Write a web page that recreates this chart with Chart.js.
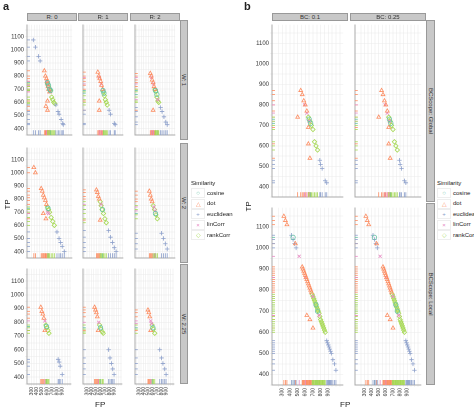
<!DOCTYPE html>
<html><head><meta charset="utf-8">
<script src="https://cdn.jsdelivr.net/npm/chart.js@4.4.0/dist/chart.umd.min.js"></script>
<style>
body{margin:0;background:#fff;font-family:"Liberation Sans",Arial,sans-serif;width:474px;height:409px;position:relative;overflow:hidden}
canvas{position:absolute}
.strip{position:absolute;background:#c8c8c8;border:1px solid #999;box-sizing:border-box;font-size:6px;color:#333;text-align:center;line-height:7px}
.vstrip{position:absolute;background:#c8c8c8;border:1px solid #999;box-sizing:border-box;font-size:6px;color:#333}
.vstrip span{position:absolute;left:50%;top:50%;transform:translate(-50%,-50%) rotate(90deg);white-space:nowrap}
.lbl{position:absolute;font-size:8px;color:#222}
.legend{position:absolute;font-size:6px;color:#222;line-height:10px;white-space:nowrap}
.legend b{font-weight:normal;display:block}
.legend i{font-style:normal;display:inline-block;width:12px;text-align:center;border:1px solid #eee;margin-right:2px;height:8px;line-height:8px;vertical-align:middle}
</style></head><body>
<script>
// Similarity methods and colours
var methods = ['cosine', 'dot', 'euclidean', 'linCorr', 'rankCorr'];
var colors = ['#66C2A5', '#FC8D62', '#8DA0CB', '#E78AC3', '#A6D854'];
var shapes = ['circle', 'triangle', 'cross', 'crossRot', 'rectRot'];
var legendSymbols = ['○', '△', '+', '×', '◇'];

// facet labels
var colsA = ['R: 0', 'R: 1', 'R: 2'];
var rowsA = ['W: 1', 'W: 2', 'W: 2.25'];
var colsB = ['BC: 0.1', 'BC: 0.25'];
var rowsB = ['BCScope: Global', 'BCScope: Local'];

// axis tick labels
var yTicks = [400, 500, 600, 700, 800, 900, 1000, 1100];
var xTicks = [300, 400, 500, 600, 700, 800, 900];

// FP,TP pairs per method: [cosine, dot, euclidean, linCorr, rankCorr]
var a_W1_R0 = [
  [600,750, 620,730, 640,700, 660,690],
  [540,840, 560,800, 580,780, 590,760, 600,740, 610,720, 620,700, 640,680, 600,610, 600,540, 570,570],
  [330,1075, 370,1020, 430,950, 460,915, 760,580, 800,530, 820,510, 860,470, 890,440, 900,430],
  [580,760, 610,730, 630,700, 650,680],
  [600,740, 620,720, 640,700, 650,690, 680,640, 700,620, 720,600, 740,590]
];
var a_W1_R1 = [
  [640,690, 660,670],
  [530,830, 550,800, 570,780, 590,760, 610,730, 630,700, 560,610, 560,540],
  [770,540, 800,510, 880,440, 900,430],
  [560,790, 600,740],
  [650,680, 670,650, 690,620, 710,600, 730,580]
];
var a_W1_R2 = [
  [650,690, 680,660],
  [540,820, 560,800, 580,770, 600,750, 620,720, 640,700, 600,540],
  [760,560, 790,530, 830,490, 870,450, 900,430],
  [570,790, 610,740, 700,620],
  [640,700, 660,680, 680,640, 700,610, 720,600]
];
var a_W2_R0 = [
  [610,730],
  [340,1040, 370,1000, 480,880, 500,860, 520,830, 540,810, 560,790, 580,760, 570,650, 520,690],
  [780,550, 820,500, 850,470, 880,440, 920,400],
  [600,700, 620,690],
  [600,740, 620,720, 640,700, 670,660, 700,630, 730,600]
];
var a_W2_R1 = [
  [630,720],
  [500,870, 520,850, 540,820, 560,800, 580,640],
  [760,560, 800,510, 840,470, 880,430, 920,400],
  [600,760],
  [580,780, 600,750, 620,720, 650,690, 680,650, 710,620]
];
var a_W2_R2 = [
  [650,690],
  [520,860, 540,830, 560,800, 580,780],
  [780,540, 820,500, 860,460, 900,420],
  [620,740, 640,710],
  [600,750, 630,720, 660,680, 690,650]
];
var a_W3_R0 = [
  [590,770],
  [480,910, 500,880, 520,860, 540,830, 560,740],
  [820,530, 840,510, 860,480, 900,420],
  [560,810],
  [580,780, 600,760, 620,740, 640,720]
];
var a_W3_R1 = [
  [600,760],
  [470,910, 490,890, 510,870, 530,840, 550,740],
  [780,600, 810,540, 840,500, 870,460, 900,420],
  [560,800],
  [580,780, 610,750, 640,730, 660,720]
];
var a_W3_R2 = [
  [610,760],
  [500,890, 520,870, 540,840, 560,740],
  [760,600, 800,540, 830,500, 870,460, 900,420],
  [560,810, 580,790],
  [590,780, 620,750, 650,720]
];
var b_Global = [
  [650,730, 670,710],
  [540,870, 560,850, 580,820, 600,800, 620,770, 640,690, 500,740, 640,610, 660,540],
  [790,530, 800,510, 820,490, 860,430, 880,420],
  [590,800, 620,760, 650,720],
  [640,740, 660,720, 680,700, 700,680, 720,620, 740,600, 760,580]
];
var b_Local = [
  [440,1050, 740,730, 760,700],
  [320,1150, 340,1130, 360,1110, 470,1020, 560,910, 570,900, 580,890, 590,880, 600,870, 610,860, 620,850, 630,840, 640,830, 650,820, 660,810, 670,800, 680,790, 620,680, 660,660, 700,620],
  [420,1060, 440,1040, 460,1020, 480,1000, 880,560, 890,550, 900,540, 910,530, 920,520, 930,510, 940,500, 960,470, 980,450, 1000,420],
  [520,960, 600,860, 700,770, 780,680],
  [690,780, 700,770, 710,760, 720,750, 730,740, 740,730, 750,720, 760,710, 770,700, 780,690, 790,675, 800,660, 810,650, 820,640, 830,630, 840,620, 850,610, 860,600]
];

function pairs(flat) {
  var out = [];
  for (var i = 0; i < flat.length; i += 2) out.push({x: flat[i], y: flat[i + 1]});
  return out;
}

// rug marks along left and bottom edges, placed through the scales
var rugPlugin = {
  id: 'rug',
  afterDatasetsDraw: function (chart) {
    var ctx = chart.ctx, xs = chart.scales.x, ys = chart.scales.y, ca = chart.chartArea;
    ctx.save();
    ctx.lineWidth = 0.8;
    chart.data.datasets.forEach(function (ds) {
      ctx.strokeStyle = ds.borderColor;
      ds.data.forEach(function (p) {
        var px = xs.getPixelForValue(p.x), py = ys.getPixelForValue(p.y);
        ctx.beginPath(); ctx.moveTo(ca.left, py); ctx.lineTo(ca.left + 3, py); ctx.stroke();
        ctx.beginPath(); ctx.moveTo(px, ca.bottom); ctx.lineTo(px, ca.bottom - 5); ctx.stroke();
      });
    });
    ctx.restore();
  }
};

function panel(data, left, top, w, h, showY, showX, xmin, xmax) {
  var cv = document.createElement('canvas');
  var yw = showY ? 26 : 0, xh = showX ? 18 : 0;
  cv.style.left = (left - yw) + 'px'; cv.style.top = top + 'px';
  cv.style.width = (w + yw) + 'px'; cv.style.height = (h + xh) + 'px';
  cv.width = w + yw; cv.height = h + xh;
  document.body.appendChild(cv);
  var datasets = methods.map(function (m, i) {
    return {label: m, data: pairs(data[i]), pointStyle: shapes[i], pointRadius: 2.2,
      borderColor: colors[i], backgroundColor: 'rgba(0,0,0,0)', borderWidth: 0.8};
  });
  new Chart(cv, {
    type: 'scatter',
    data: {datasets: datasets},
    plugins: [rugPlugin],
    options: {
      responsive: false, animation: false, devicePixelRatio: 2,
      layout: {padding: 0},
      plugins: {legend: {display: false}, tooltip: {enabled: false}},
      scales: {
        x: {min: xmin, max: xmax,
          afterFit: function (s) { s.height = xh; },
          afterBuildTicks: function (s) {
            var t = []; for (var v = 250; v <= xmax; v += 50) if (v >= xmin) t.push({value: v}); s.ticks = t;
          },
          grid: {color: '#ececec', lineWidth: 0.6, drawTicks: showX, tickLength: 2},
          border: {color: '#aaa'},
          ticks: {display: showX, font: {size: 5}, color: '#333', minRotation: 90, maxRotation: 90, padding: 1,
            autoSkip: false, callback: function (v) { return xTicks.indexOf(v) >= 0 ? String(v) : ''; }}},
        y: {min: 350, max: 1190,
          afterFit: function (s) { s.width = yw; },
          afterBuildTicks: function (s) {
            var t = []; for (var v = 350; v <= 1190; v += 50) t.push({value: v}); s.ticks = t;
          },
          grid: {color: '#ececec', lineWidth: 0.6, drawTicks: showY, tickLength: 2},
          border: {color: '#aaa'},
          ticks: {display: showY, font: {size: 6}, color: '#333', padding: 1, autoSkip: false,
            callback: function (v) { return yTicks.indexOf(v) >= 0 ? String(v) : ''; }}}
      }
    }
  });
}

function div(cls, html, l, t, w, h) {
  var d = document.createElement('div');
  d.className = cls; d.innerHTML = html;
  d.style.left = l + 'px'; d.style.top = t + 'px';
  if (w) d.style.width = w + 'px'; if (h) d.style.height = h + 'px';
  document.body.appendChild(d); return d;
}

// panel a
var gridA = [[a_W1_R0, a_W1_R1, a_W1_R2], [a_W2_R0, a_W2_R1, a_W2_R2], [a_W3_R0, a_W3_R1, a_W3_R2]];
var aX = [27, 78, 130], aY = [20, 143, 264], aW = 50, aH = 120;
gridA.forEach(function (row, r) {
  row.forEach(function (d, c) { panel(d, aX[c], aY[r], aW, aH, c === 0, r === 2, 210, 1070); });
  div('vstrip', '<span>' + rowsA[r] + '</span>', 180, aY[r], 8, aH);
});
colsA.forEach(function (t, c) { div('strip', t, aX[c], 13, aW, 8); });

// panel b
var gridB = [[b_Global, b_Global], [b_Local, b_Local]];
var bX = [272, 350], bY = [20, 203], bW = 76, bH = [182, 182];
gridB.forEach(function (row, r) {
  row.forEach(function (d, c) { panel(d, bX[c], bY[r], bW, bH[r], c === 0, r === 1, 165, 1095); });
  div('vstrip', '<span>' + rowsB[r] + '</span>', 426, bY[r], 9, bH[r]);
});
colsB.forEach(function (t, c) { div('strip', t, bX[c], 13, bW, 8); });

// titles
div('lbl', '<b style="font-size:11px">a</b>', 3, 0);
div('lbl', '<b style="font-size:11px">b</b>', 244, 0);
div('lbl', 'FP', 95, 400);
div('lbl', 'FP', 340, 400);
var t1 = div('lbl', 'TP', 2, 200); t1.style.transform = 'rotate(-90deg)';
var t2 = div('lbl', 'TP', 243, 202); t2.style.transform = 'rotate(-90deg)';

// legends
function legend(l, t) {
  var h = '<b>Similarity</b>';
  methods.forEach(function (m, i) {
    h += '<div><i style="color:' + colors[i] + '">' + legendSymbols[i] + '</i>' + m + '</div>';
  });
  div('legend', h, l, t);
}
legend(191, 178);
legend(437, 178);
</script>
</body></html>
